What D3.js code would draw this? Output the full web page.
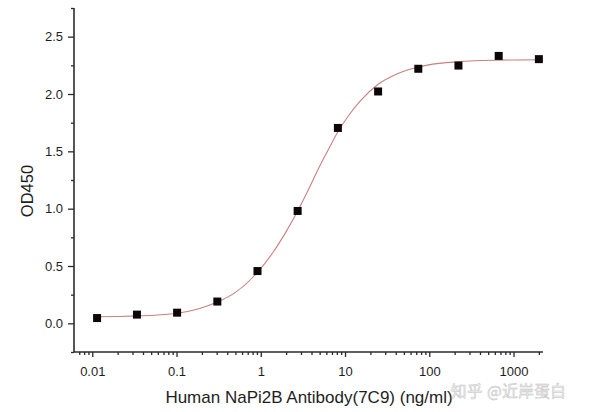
<!DOCTYPE html>
<html>
<head>
<meta charset="utf-8">
<script src="https://cdn.jsdelivr.net/npm/d3@7"></script>
<style>
  body { margin: 0; background: #fff; }
  svg { display: block; font-family: "Liberation Sans", Arial, sans-serif; }
</style>
</head>
<body>
<div id="chart"></div>
<script>
// measured points: 3-fold dilution from 2000 ng/ml
const concentrations = [0.0114, 0.0339, 0.1016, 0.305, 0.914, 2.74, 8.23, 24.7, 74.1, 222, 667, 2000];
const od450 = [0.046, 0.076, 0.093, 0.19, 0.456, 0.98, 1.704, 2.022, 2.22, 2.248, 2.332, 2.304];

// fitted curve
const fitX = [0.0114, 0.02, 0.0339, 0.06, 0.1016, 0.18, 0.305, 0.5, 0.914, 1.4, 2.0, 2.74, 3.7, 5.0, 6.5, 8.23, 11, 15, 24.7, 40, 74, 130, 222, 667, 2000];
const fitY = [0.057, 0.060, 0.065, 0.073, 0.088, 0.125, 0.185, 0.27, 0.445, 0.62, 0.80, 0.98, 1.17, 1.37, 1.53, 1.67, 1.81, 1.935, 2.085, 2.17, 2.235, 2.267, 2.282, 2.295, 2.299];

// tick labels
const xMajor = [0.01, 0.1, 1, 10, 100, 1000];
const yMajor = [0, 0.5, 1.0, 1.5, 2.0, 2.5];
const yMinor = [-0.25, 0.25, 0.75, 1.25, 1.75, 2.25, 2.75];

const width = 593;
const height = 412;

// plot box (pixels)
const plotLeft = 74, plotRight = 543, plotTop = 8, plotBottom = 352;

const svg = d3.select('#chart').append('svg')
  .attr('width', width)
  .attr('height', height);

const x = d3.scaleLog()
  .domain([Math.pow(10, -2.217), Math.pow(10, 3.35)])
  .range([plotLeft, plotRight]);

const y = d3.scaleLinear()
  .domain([-0.25, 2.75])
  .range([plotBottom, plotTop]);

// minor x ticks: 2..9 in each decade
const xMinor = [];
for (let e = -3; e <= 3; e++) {
  for (let m = 2; m <= 9; m++) {
    const v = m * Math.pow(10, e);
    if (v >= x.domain()[0] && v <= x.domain()[1]) xMinor.push(v);
  }
}

const axisColor = '#2b2b2b';
const textColor = '#1e1e1e';

const styleAxis = g => {
  g.select('.domain').remove();
  g.selectAll('.tick line').attr('stroke', axisColor).attr('stroke-width', 1.3);
  g.selectAll('.tick text').attr('fill', textColor).style('font-size', '13px');
};

// x axis
svg.append('g')
    .attr('transform', `translate(0, ${plotBottom})`)
    .call(d3.axisBottom(x).tickValues(xMinor).tickSize(3).tickFormat(''))
    .call(styleAxis);

svg.append('g')
    .attr('transform', `translate(0, ${plotBottom})`)
    .call(d3.axisBottom(x).tickValues(xMajor).tickSize(5).tickPadding(10)
      .tickFormat(d => d < 1 ? String(d) : d3.format('d')(d)))
    .call(styleAxis);

// y axis
svg.append('g')
    .attr('transform', `translate(${plotLeft}, 0)`)
    .call(d3.axisLeft(y).tickValues(yMinor).tickSize(3).tickFormat(''))
    .call(styleAxis);

svg.append('g')
    .attr('transform', `translate(${plotLeft}, 0)`)
    .call(d3.axisLeft(y).tickValues(yMajor).tickSize(6).tickPadding(5).tickFormat(d3.format('.1f')))
    .call(styleAxis);

// axis lines
svg.append('line')
  .attr('x1', plotLeft).attr('x2', plotRight)
  .attr('y1', plotBottom).attr('y2', plotBottom)
  .attr('stroke', axisColor).attr('stroke-width', 1.6);

svg.append('line')
  .attr('x1', plotLeft).attr('x2', plotLeft)
  .attr('y1', plotTop).attr('y2', plotBottom)
  .attr('stroke', axisColor).attr('stroke-width', 1.6);

// fit line
const fit = fitX.map((d, i) => ({ c: d, v: fitY[i] }));
const line = d3.line()
  .x(d => x(d.c))
  .y(d => y(d.v))
  .curve(d3.curveMonotoneX);

svg.append('path')
  .datum(fit)
  .attr('fill', 'none')
  .attr('stroke', '#c8817f')
  .attr('stroke-width', 1.1)
  .attr('d', line);

// square markers
const pts = concentrations.map((d, i) => ({ c: d, v: od450[i] }));
const s = 8;
svg.selectAll('.pt')
  .data(pts)
  .enter().append('rect')
  .attr('class', 'pt')
  .attr('x', d => x(d.c) - s / 2)
  .attr('y', d => y(d.v) - s / 2)
  .attr('width', s)
  .attr('height', s)
  .attr('fill', '#0d0608');

// titles
svg.append('text')
  .attr('x', 309)
  .attr('y', 403)
  .attr('text-anchor', 'middle')
  .attr('fill', textColor)
  .style('font-size', '17px')
  .text('Human NaPi2B Antibody(7C9) (ng/ml)');

svg.append('text')
  .attr('transform', 'translate(33, 191) rotate(-90)')
  .attr('text-anchor', 'middle')
  .attr('fill', textColor)
  .style('font-size', '16.5px')
  .text('OD450');

// watermark
svg.append('text')
  .attr('x', 451)
  .attr('y', 397)
  .attr('fill', '#f2f2f2')
  .attr('stroke', '#c4c4c4')
  .attr('stroke-width', 0.5)
  .style('font-family', '"Noto Sans CJK SC", sans-serif')
  .style('font-size', '15.5px')
  .style('letter-spacing', '0.5px')
  .text('知乎 @近岸蛋白');
</script>
</body>
</html>
